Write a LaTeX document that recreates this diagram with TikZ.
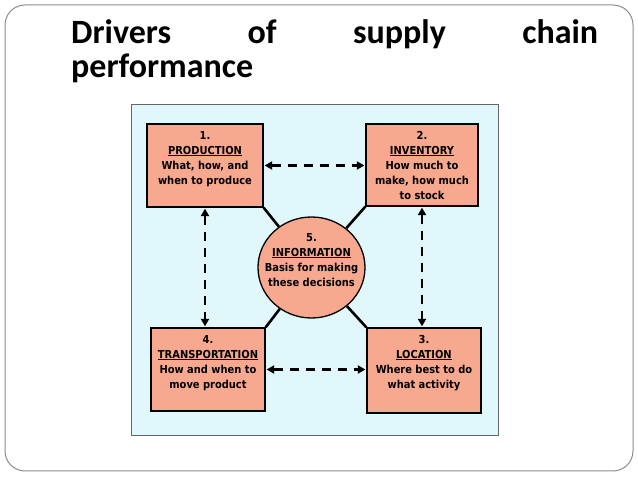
\documentclass[tikz,border=0pt]{standalone}
\usepackage{fontspec}
\setmainfont{Carlito}
\newfontfamily\drvfont{DejaVu Sans Condensed}[BoldFont={DejaVu Sans Condensed Bold}]
\usetikzlibrary{arrows.meta,shapes.geometric}
\definecolor{salmon}{HTML}{F7A98F}
\definecolor{panelblue}{HTML}{E0F7FC}
\definecolor{framegray}{HTML}{8C8C8C}
\newcommand{\drvul}[1]{\setbox0\hbox{#1}\leavevmode\rlap{\rule[-2.2pt]{\wd0}{1.1pt}}\box0}
\begin{document}
\begin{tikzpicture}[x=1pt,y=-1pt,
  drvbox/.style={draw=black, line width=1.3pt, fill=salmon, inner sep=0pt},
  drvtext/.style={align=center, inner sep=0pt, anchor=north,
    font={\drvfont\bfseries\fontsize{11}{15}\selectfont}},
  spoke/.style={line width=2.6pt, black},
  dasharrow/.style={line width=2.7pt, black, dash pattern=on 9pt off 7pt,
    {Triangle[length=7.5pt,width=8pt]}-{Triangle[length=7.5pt,width=8pt]}, shorten <=1pt, shorten >=1pt},
  titletext/.style={font={\bfseries\fontsize{34}{34}\selectfont}, inner sep=0pt, anchor=base west}
]
\useasboundingbox (0,0) rectangle (638,478);
% outer frame
\draw[framegray, line width=1pt, rounded corners=20pt] (5,5) rectangle (633,471);
% title
\node[titletext] (t1) at (71,44) {\makebox[527pt][s]{Drivers\hfill of\hfill supply\hfill chain}};
\node[titletext] (t2) at (71,78) {performance};
% panel
\draw[fill=panelblue, draw=gray!80!black, line width=0.8pt] (131.5,104.5) rectangle (498,435.5);
% boxes
\node[drvbox, minimum width=116pt, minimum height=83pt] (p1) at (205,165.5) {};
\node[drvbox, minimum width=112pt, minimum height=82pt] (p2) at (422,165) {};
\node[drvbox, minimum width=114pt, minimum height=83pt] (p4) at (208,369.5) {};
\node[drvbox, minimum width=114pt, minimum height=85pt] (p3) at (424,370.5) {};
% circle
\node[drvbox, ellipse, minimum width=107pt, minimum height=101pt] (info) at (311.5,267.5) {};
% spokes
\draw[spoke] (p1.south east) -- (info);
\draw[spoke] (p2.south west) -- (info);
\draw[spoke] (p4.north east) -- (info);
\draw[spoke] (p3.north west) -- (info);
% texts
\node[drvtext] (p1t) at (p1.north) {\rule{0pt}{15.5pt}1.\\\drvul{PRODUCTION}\\What, how, and\\when to produce};
\node[drvtext] (p2t) at (p2.north) {\rule{0pt}{15.5pt}2.\\\drvul{INVENTORY}\\How much to\\make, how much\\to stock};
\node[drvtext] (p4t) at (p4.north) {\rule{0pt}{15.5pt}4.\\\drvul{TRANSPORTATION}\\How and when to\\move product};
\node[drvtext] (p3t) at (p3.north) {\rule{0pt}{15.5pt}3.\\\drvul{LOCATION}\\Where best to do\\what activity};
\node[drvtext] (infot) at ([yshift=-9pt]info.north) {\rule{0pt}{15.5pt}5.\\\drvul{INFORMATION}\\Basis for making\\these decisions};
% dashed arrows
\draw[dasharrow] (p1.east) -- (p2.west |- p1.east);
\draw[dasharrow] (p4.east) -- (p3.west |- p4.east);
\draw[dasharrow] (p1.south) -- (p1.south |- p4.north);
\draw[dasharrow] (p2.south) -- (p2.south |- p3.north);
\end{tikzpicture}
\end{document}
